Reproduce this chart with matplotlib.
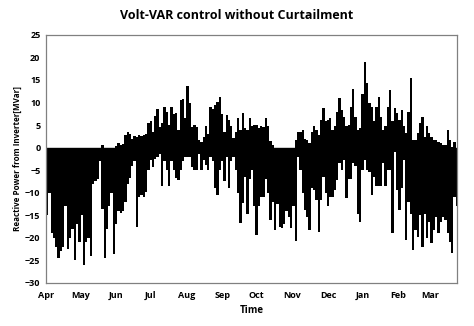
import numpy as np
import matplotlib.pyplot as plt

# Envelope of hourly inverter reactive power, sampled every 2 days from 1 Apr (MVar)
q_min = [
    -15, -10, -19, -20, -22, -24.5, -23, -22, -13, -22.5,
    -20, -18, -25, -17, -21, -15, -26, -21, -20, -24,
    -8, -7.5, -7, -3, -13.5, -24.5, -18, -13, -10, -23.5,
    -17, -14, -14.5, -14, -12, -8, -6.8, -4, -3, -17.5,
    -11, -10.5, -11, -9.8, -5, -2.7, -4.2, -2.5, -2, -1.5,
    -8.6, -3, -5, -8.6, -3, -5, -6.8, -7.2, -5, -3,
    -2, -2, -2, -4.2, -5, -5, -1.5, -5, -2.7, -3.8,
    -5, -2, -3, -9, -10.5, -5, -3, -7.5, -2, -9,
    -3, -2, -5, -10, -16.8, -12.3, -6.5, -14.6, -7, -5,
    -13, -19.4, -13, -11, -11, -7, -10, -16, -12, -18.3,
    -12.4, -17.5, -17.9, -17, -14, -15.3, -17.9, -13, -20.7, -2,
    -5, -10, -13.8, -15.3, -18.3, -9, -9.5, -11.5, -18.6, -11.5,
    -6.5, -10, -13, -10.9, -10.9, -9.4, -7.2, -3.5, -5, -2.7,
    -11.2, -7, -7, -3.5, -4, -14.6, -16.4, -5, -2.7, -5,
    -5.3, -10.5, -6.5, -8.6, -8.6, -8.6, -3.5, -8.6, -5, -5,
    -19, -1, -9.4, -13.8, -9, -2.7, -20.5, -12, -14.6, -22.7,
    -18.3, -19.7, -15, -22, -14.6, -20, -16.4, -21.2, -18.3, -15.3,
    -19, -16.5, -15.3, -16, -19, -21, -23.4, -10.9, -12.9,
]
q_max = [
    0, 0, 0, 0, 0, 0, 0, 0, 0, 0,
    0, 0, 0, 0, 0, 0, 0, 0, 0, 0,
    0, 0, 0, 0, 0.6, 0, 0, 0, 0, 0,
    0.3, 1.1, 0.5, 0.8, 2.8, 3.5, 3, 2, 2.5, 2.3,
    2.8, 2.6, 2.8, 3, 5.4, 5.8, 3.5, 7, 8.5, 4.5,
    5.5, 9.1, 8, 5, 9.1, 7.5, 7.6, 4, 10.5, 10.7,
    6.5, 13.7, 9.8, 4.5, 5, 4.5, 1.7, 1.3, 2.4, 4.7,
    3, 9.1, 8.5, 9.5, 10.2, 11.3, 7.5, 3.5, 7.2, 6.1,
    4.7, 2.2, 3.5, 6.5, 4, 7.6, 4.3, 4, 6.5, 4.7,
    5, 5, 4.3, 4.7, 4.5, 6.5, 4.7, 1.5, 0.5, 0,
    0, 0, 0, 0, 0, 0, 0, 0, 1.7, 3.5,
    3.5, 3.9, 2, 1.7, 1, 3.5, 4.7, 3.9, 2.8, 6.1,
    8.7, 5.8, 6.1, 6.5, 3.9, 4.7, 8, 10.9, 8.4, 6.9,
    4.7, 5, 9, 12.9, 6.9, 3.9, 4.3, 12, 19, 14.3,
    10, 9, 6, 9, 11.3, 6.9, 3.9, 4.7, 9, 12.8,
    5.8, 8.7, 7.6, 6.1, 8.4, 4.7, 3.2, 8, 15.4, 1.7,
    1.7, 3.2, 5.5, 6.9, 2.4, 4.7, 3.2, 2.4, 1.7, 1.7,
    1.3, 1, 0.6, 0.6, 3.9, 1.7, 0.2, 1.3, 0,
]
months = ['Apr', 'May', 'Jun', 'Jul', 'Aug', 'Sep', 'Oct', 'Nov', 'Dec', 'Jan', 'Feb', 'Mar']
month_start = [0, 30, 61, 91, 122, 153, 183, 214, 245, 275, 306, 334]

days = np.arange(len(q_min)) * 2
lo = np.array(q_min)
hi = np.array(q_max)

fig = plt.figure(figsize=(4.74, 3.26), dpi=100)
ax = fig.add_axes([0.097, 0.132, 0.867, 0.761])

ax.bar(days + 1, hi - lo, bottom=lo, width=2.0, color='black', linewidth=0)
ax.axhline(0, color='black', lw=1.0)

ax.set_xlim(0, 357)
ax.set_ylim(-30, 25)
ax.set_yticks(np.arange(-30, 26, 5))
ax.set_xticks(month_start)
ax.set_xticklabels(months)
ax.tick_params(axis='x', length=0, labelsize=6.5, pad=6)
ax.tick_params(axis='y', length=0, labelsize=6.5, pad=4)
for lab in ax.get_xticklabels() + ax.get_yticklabels():
    lab.set_fontweight('bold')
    lab.set_family('Open Sans')

for s in ax.spines.values():
    s.set_color('#808080')
    s.set_linewidth(0.9)

fig.text(0.5, 0.951, 'Volt-VAR control without Curtailment', fontsize=9,
         fontweight='bold', family='Open Sans', ha='center', va='center')
ax.set_xlabel('Time', fontsize=7, fontweight='bold', family='Open Sans', labelpad=3)
ax.set_ylabel('Reactive Power from Inverter[MVar]', fontsize=5.8, fontweight='bold',
              family='Open Sans')
ax.yaxis.set_label_coords(-0.058, 0.5)

fig.savefig('out.png', dpi=100)
